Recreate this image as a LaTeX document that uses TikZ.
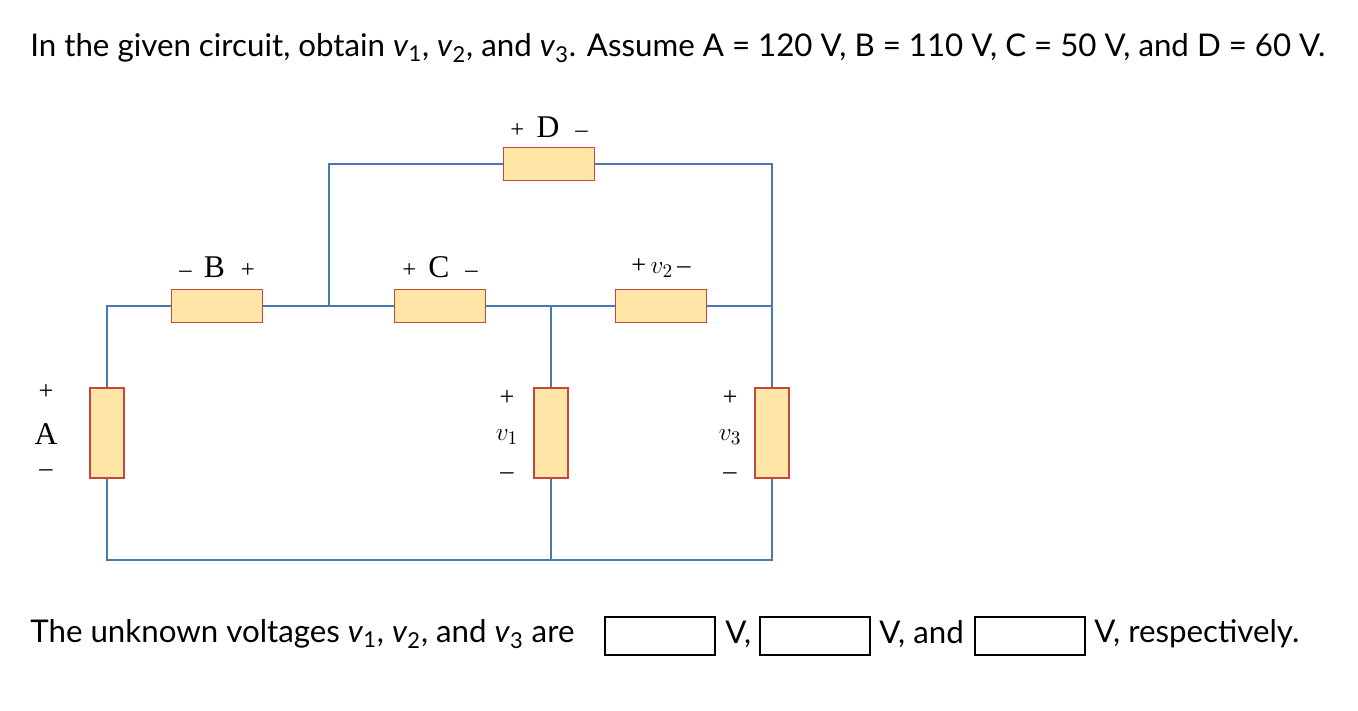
\documentclass[tikz,border=0pt]{standalone}
\usepackage{fontspec}
\setmainfont{Liberation Serif}
\newfontfamily\qfont{Lato}
\usetikzlibrary{positioning}
\definecolor{wire}{HTML}{4A78B0}
\definecolor{resfill}{HTML}{FFE6A6}
\definecolor{resdraw}{HTML}{C8463C}
\begin{document}
\begin{tikzpicture}[x=0.02cm,y=-0.02cm,
    wr/.style={draw=wire, line width=1.2pt},
    hres/.style={draw=resdraw, fill=resfill, line width=0.8pt, minimum width=1.82cm, minimum height=0.66cm, inner sep=0pt},
    vres/.style={draw=resdraw, fill=resfill, line width=0.8pt, minimum width=0.68cm, minimum height=1.8cm, inner sep=0pt},
    lab/.style={font=\fontsize{17}{17}\selectfont},
    sign/.style={font=\fontsize{15}{15}\selectfont},
    txt/.style={font=\qfont\fontsize{17.8}{19}\selectfont, anchor=west, inner sep=0pt},
    ans/.style={draw, line width=0.8pt, minimum width=2.2cm, minimum height=0.76cm, inner sep=0pt}
]
\useasboundingbox (0,0) rectangle (1358,710);

% question
\node[txt] (q) at (30,48) {In the given circuit, obtain \textit{v}\textsubscript{1}, \textit{v}\textsubscript{2}, and \textit{v}\textsubscript{3}. Assume A = 120 V, B = 110 V, C = 50 V, and D = 60 V.};

% junctions
\coordinate (tl) at (329,164);
\coordinate (tr) at (772,164);
\coordinate (ml) at (107,306);
\coordinate (mj) at (329,306);
\coordinate (mm) at (551,306);
\coordinate (mr) at (772,306);
\coordinate (bl) at (107,560);
\coordinate (bm) at (551,560);
\coordinate (br) at (772,560);

% resistors
\node[hres] (D) at (549,164) {};
\node[hres] (B) at (217,306) {};
\node[hres] (C) at (440,306) {};
\node[hres] (R2) at (661,306) {};
\node[vres] (A) at (107,433) {};
\node[vres] (R1) at (551,433) {};
\node[vres] (R3) at (772,433) {};

% wires
\draw[wr] (mj) -- (tl) -- (D) -- (tr) -- (mr) -- (R3) -- (br) -- (bm) -- (bl) -- (A) -- (ml) -- (B) -- (mj) -- (C) -- (mm) -- (R2) -- (mr);
\draw[wr] (mm) -- (R1) -- (bm);

% labels
\node[lab] (Dl) at (549,127) {\fontsize{14}{14}\selectfont+\ \ \fontsize{18}{18}\selectfont D \ \fontsize{14}{14}\selectfont --};
\node[lab] (Bl) at (217,267) {\fontsize{14}{14}\selectfont --\ \ \fontsize{18}{18}\selectfont B \ \fontsize{14}{14}\selectfont +};
\node[lab] (Cl) at (440,267) {\fontsize{14}{14}\selectfont+\ \ \fontsize{18}{18}\selectfont C \ \fontsize{14}{14}\selectfont --};
\node[sign] (v2l) at (661,268) {+\,$v_2$\,--};
\node[sign] (Ap) at (46,392) {+};
\node[lab] (Al) at (46,434) {\fontsize{18}{18}\selectfont A};
\node[sign] (Am) at (46,473) {--};
\node[sign] (v1p) at (507,398) {+};
\node[sign] (v1l) at (507,437) {$v_1$};
\node[sign] (v1m) at (507,476) {--};
\node[sign] (v3p) at (730,398) {+};
\node[sign] (v3l) at (730,437) {$v_3$};
\node[sign] (v3m) at (730,476) {--};

% answer line
\node[txt] (a1) at (30,634) {The unknown voltages \textit{v}\textsubscript{1}, \textit{v}\textsubscript{2}, and \textit{v}\textsubscript{3} are};
\node[ans] (b1) at (660,636) {};
\node[txt] (a2) at (725,634) {V,};
\node[ans] (b2) at (815,636) {};
\node[txt] (a3) at (879,634) {V, and};
\node[ans] (b3) at (1030,636) {};
\node[txt] (a4) at (1094,634) {V, respectively.};
\end{tikzpicture}
\end{document}
